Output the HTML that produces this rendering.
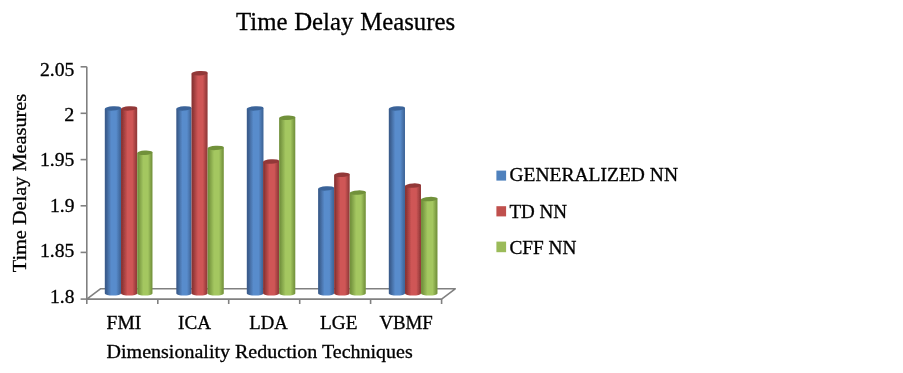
<!DOCTYPE html>
<html><head><meta charset="utf-8"><title>Time Delay Measures</title>
<style>html,body{margin:0;padding:0;background:#fff}svg{display:block}</style></head>
<body><svg width="903" height="373" viewBox="0 0 903 373">
<defs><linearGradient id="gb" x1="0" x2="1" y1="0" y2="0"><stop offset="0" stop-color="#3a5c8c"/><stop offset="0.07" stop-color="#3a5c8c"/><stop offset="0.40" stop-color="#598ccc"/><stop offset="0.70" stop-color="#598ccc"/><stop offset="0.94" stop-color="#41699d"/><stop offset="1" stop-color="#41699d"/></linearGradient><linearGradient id="gr" x1="0" x2="1" y1="0" y2="0"><stop offset="0" stop-color="#8b3434"/><stop offset="0.07" stop-color="#8b3434"/><stop offset="0.40" stop-color="#cf5656"/><stop offset="0.70" stop-color="#cf5656"/><stop offset="0.94" stop-color="#963b3b"/><stop offset="1" stop-color="#963b3b"/></linearGradient><linearGradient id="gg" x1="0" x2="1" y1="0" y2="0"><stop offset="0" stop-color="#74933e"/><stop offset="0.07" stop-color="#74933e"/><stop offset="0.40" stop-color="#a4c761"/><stop offset="0.70" stop-color="#a4c761"/><stop offset="0.94" stop-color="#78973f"/><stop offset="1" stop-color="#78973f"/></linearGradient><filter id="soft" x="-2%" y="-2%" width="104%" height="104%"><feGaussianBlur stdDeviation="0.45"/></filter></defs>
<rect width="903" height="373" fill="#fff"/>
<g fill="none" stroke="#808080" stroke-width="1.6" stroke-linejoin="round">
<path d="M86.8 66.8V304"/>
<path d="M80.6 66.8H86.8"/>
<path d="M80.6 113.3H86.8"/>
<path d="M80.6 159.6H86.8"/>
<path d="M80.6 205.8H86.8"/>
<path d="M80.6 252.4H86.8"/>
<path d="M80.6 299.1H86.8"/>
<path d="M86.8 299.1H441.6L455.2 288.8H100.4Z"/>
<path d="M157.8 299.1V304"/>
<path d="M228.7 299.1V304"/>
<path d="M299.7 299.1V304"/>
<path d="M370.6 299.1V304"/>
<path d="M441.6 299.1V304"/>
</g>
<g filter="url(#soft)">
<path d="M104.8 108.9V293.4A8.10 2.1 0 0 0 121.0 293.4V107.9Z" fill="url(#gb)"/>
<ellipse cx="112.90" cy="108.4" rx="8.15" ry="2.2" transform="rotate(-3.5 112.90 108.4)" fill="#3a6499"/>
<path d="M121.0 108.9V293.4A8.10 2.1 0 0 0 137.2 293.4V107.9Z" fill="url(#gr)"/>
<ellipse cx="129.10" cy="108.4" rx="8.15" ry="2.2" transform="rotate(-3.5 129.10 108.4)" fill="#923838"/>
<path d="M137.2 153.3V293.4A7.65 2.1 0 0 0 152.5 293.4V152.3Z" fill="url(#gg)"/>
<ellipse cx="144.85" cy="152.8" rx="7.70" ry="2.2" transform="rotate(-3.5 144.85 152.8)" fill="#71913a"/>
<path d="M176.3 108.9V293.4A7.60 2.1 0 0 0 191.5 293.4V107.9Z" fill="url(#gb)"/>
<ellipse cx="183.90" cy="108.4" rx="7.65" ry="2.2" transform="rotate(-3.5 183.90 108.4)" fill="#3a6499"/>
<path d="M191.5 73.7V293.4A8.05 2.1 0 0 0 207.6 293.4V72.7Z" fill="url(#gr)"/>
<ellipse cx="199.55" cy="73.2" rx="8.10" ry="2.2" transform="rotate(-3.5 199.55 73.2)" fill="#923838"/>
<path d="M207.6 148.4V293.4A8.10 2.1 0 0 0 223.8 293.4V147.4Z" fill="url(#gg)"/>
<ellipse cx="215.70" cy="147.9" rx="8.15" ry="2.2" transform="rotate(-3.5 215.70 147.9)" fill="#71913a"/>
<path d="M246.8 108.9V293.4A8.35 2.1 0 0 0 263.5 293.4V107.9Z" fill="url(#gb)"/>
<ellipse cx="255.15" cy="108.4" rx="8.40" ry="2.2" transform="rotate(-3.5 255.15 108.4)" fill="#3a6499"/>
<path d="M263.1 162.0V293.4A8.00 2.1 0 0 0 279.1 293.4V161.0Z" fill="url(#gr)"/>
<ellipse cx="271.10" cy="161.5" rx="8.05" ry="2.2" transform="rotate(-3.5 271.10 161.5)" fill="#923838"/>
<path d="M279.1 118.3V293.4A8.10 2.1 0 0 0 295.3 293.4V117.3Z" fill="url(#gg)"/>
<ellipse cx="287.20" cy="117.8" rx="8.15" ry="2.2" transform="rotate(-3.5 287.20 117.8)" fill="#71913a"/>
<path d="M318.1 188.9V293.4A8.00 2.1 0 0 0 334.1 293.4V187.9Z" fill="url(#gb)"/>
<ellipse cx="326.10" cy="188.4" rx="8.05" ry="2.2" transform="rotate(-3.5 326.10 188.4)" fill="#3a6499"/>
<path d="M334.1 175.3V293.4A7.80 2.1 0 0 0 349.7 293.4V174.3Z" fill="url(#gr)"/>
<ellipse cx="341.90" cy="174.8" rx="7.85" ry="2.2" transform="rotate(-3.5 341.90 174.8)" fill="#923838"/>
<path d="M349.7 193.1V293.4A8.05 2.1 0 0 0 365.8 293.4V192.1Z" fill="url(#gg)"/>
<ellipse cx="357.75" cy="192.6" rx="8.10" ry="2.2" transform="rotate(-3.5 357.75 192.6)" fill="#71913a"/>
<path d="M388.8 108.9V293.4A8.10 2.1 0 0 0 405.0 293.4V107.9Z" fill="url(#gb)"/>
<ellipse cx="396.90" cy="108.4" rx="8.15" ry="2.2" transform="rotate(-3.5 396.90 108.4)" fill="#3a6499"/>
<path d="M405.0 186.1V293.4A8.00 2.1 0 0 0 421.0 293.4V185.1Z" fill="url(#gr)"/>
<ellipse cx="413.00" cy="185.6" rx="8.05" ry="2.2" transform="rotate(-3.5 413.00 185.6)" fill="#923838"/>
<path d="M421.0 199.6V293.4A8.25 2.1 0 0 0 437.5 293.4V198.6Z" fill="url(#gg)"/>
<ellipse cx="429.25" cy="199.1" rx="8.30" ry="2.2" transform="rotate(-3.5 429.25 199.1)" fill="#71913a"/>
</g>
<g font-family="'Liberation Serif', serif" fill="#000" stroke="#000" stroke-width="0.3">
<text x="236.0" y="29.5" font-size="24.8" text-anchor="start" word-spacing="0.55">Time Delay Measures</text>
<text x="40.0" y="75.5" font-size="18.8" text-anchor="start" textLength="34.4" lengthAdjust="spacingAndGlyphs" >2.05</text>
<text x="64.3" y="120.9" font-size="18.8" text-anchor="start" textLength="10.1" lengthAdjust="spacingAndGlyphs" >2</text>
<text x="40.0" y="166.4" font-size="18.8" text-anchor="start" textLength="34.4" lengthAdjust="spacingAndGlyphs" >1.95</text>
<text x="50.0" y="211.8" font-size="18.8" text-anchor="start" textLength="24.4" lengthAdjust="spacingAndGlyphs" >1.9</text>
<text x="40.0" y="257.3" font-size="18.8" text-anchor="start" textLength="34.4" lengthAdjust="spacingAndGlyphs" >1.85</text>
<text x="50.0" y="302.7" font-size="18.8" text-anchor="start" textLength="24.4" lengthAdjust="spacingAndGlyphs" >1.8</text>
<text x="106.6" y="328.6" font-size="18.8" text-anchor="start" textLength="34.6" lengthAdjust="spacingAndGlyphs" >FMI</text>
<text x="178.0" y="328.6" font-size="18.8" text-anchor="start" textLength="33.0" lengthAdjust="spacingAndGlyphs" >ICA</text>
<text x="249.2" y="328.6" font-size="18.8" text-anchor="start" textLength="38.5" lengthAdjust="spacingAndGlyphs" >LDA</text>
<text x="320.0" y="328.6" font-size="18.8" text-anchor="start" textLength="37.5" lengthAdjust="spacingAndGlyphs" >LGE</text>
<text x="379.4" y="328.6" font-size="18.8" text-anchor="start" textLength="53.4" lengthAdjust="spacingAndGlyphs" >VBMF</text>
<text x="106.6" y="358.2" font-size="18.8" text-anchor="start" textLength="306.2" lengthAdjust="spacingAndGlyphs" >Dimensionality Reduction Techniques</text>
<text transform="translate(26.1 272.3) rotate(-90)" font-size="18.8" textLength="178.5" lengthAdjust="spacingAndGlyphs">Time Delay Measures</text>
<rect x="496.4" y="170.6" width="9.7" height="10.0" fill="#4f81bd" stroke="none"/>
<text x="509.4" y="181.3" font-size="18.8" text-anchor="start" textLength="168.6" lengthAdjust="spacingAndGlyphs" >GENERALIZED NN</text>
<rect x="496.4" y="206.2" width="9.7" height="10.2" fill="#c0504d" stroke="none"/>
<text x="509.4" y="217.5" font-size="18.8" text-anchor="start" textLength="57.6" lengthAdjust="spacingAndGlyphs" >TD NN</text>
<rect x="496.4" y="241.6" width="9.7" height="10.6" fill="#9bbb59" stroke="none"/>
<text x="509.4" y="253.7" font-size="18.8" text-anchor="start" textLength="67" lengthAdjust="spacingAndGlyphs" >CFF NN</text>
</g>
</svg></body></html>
